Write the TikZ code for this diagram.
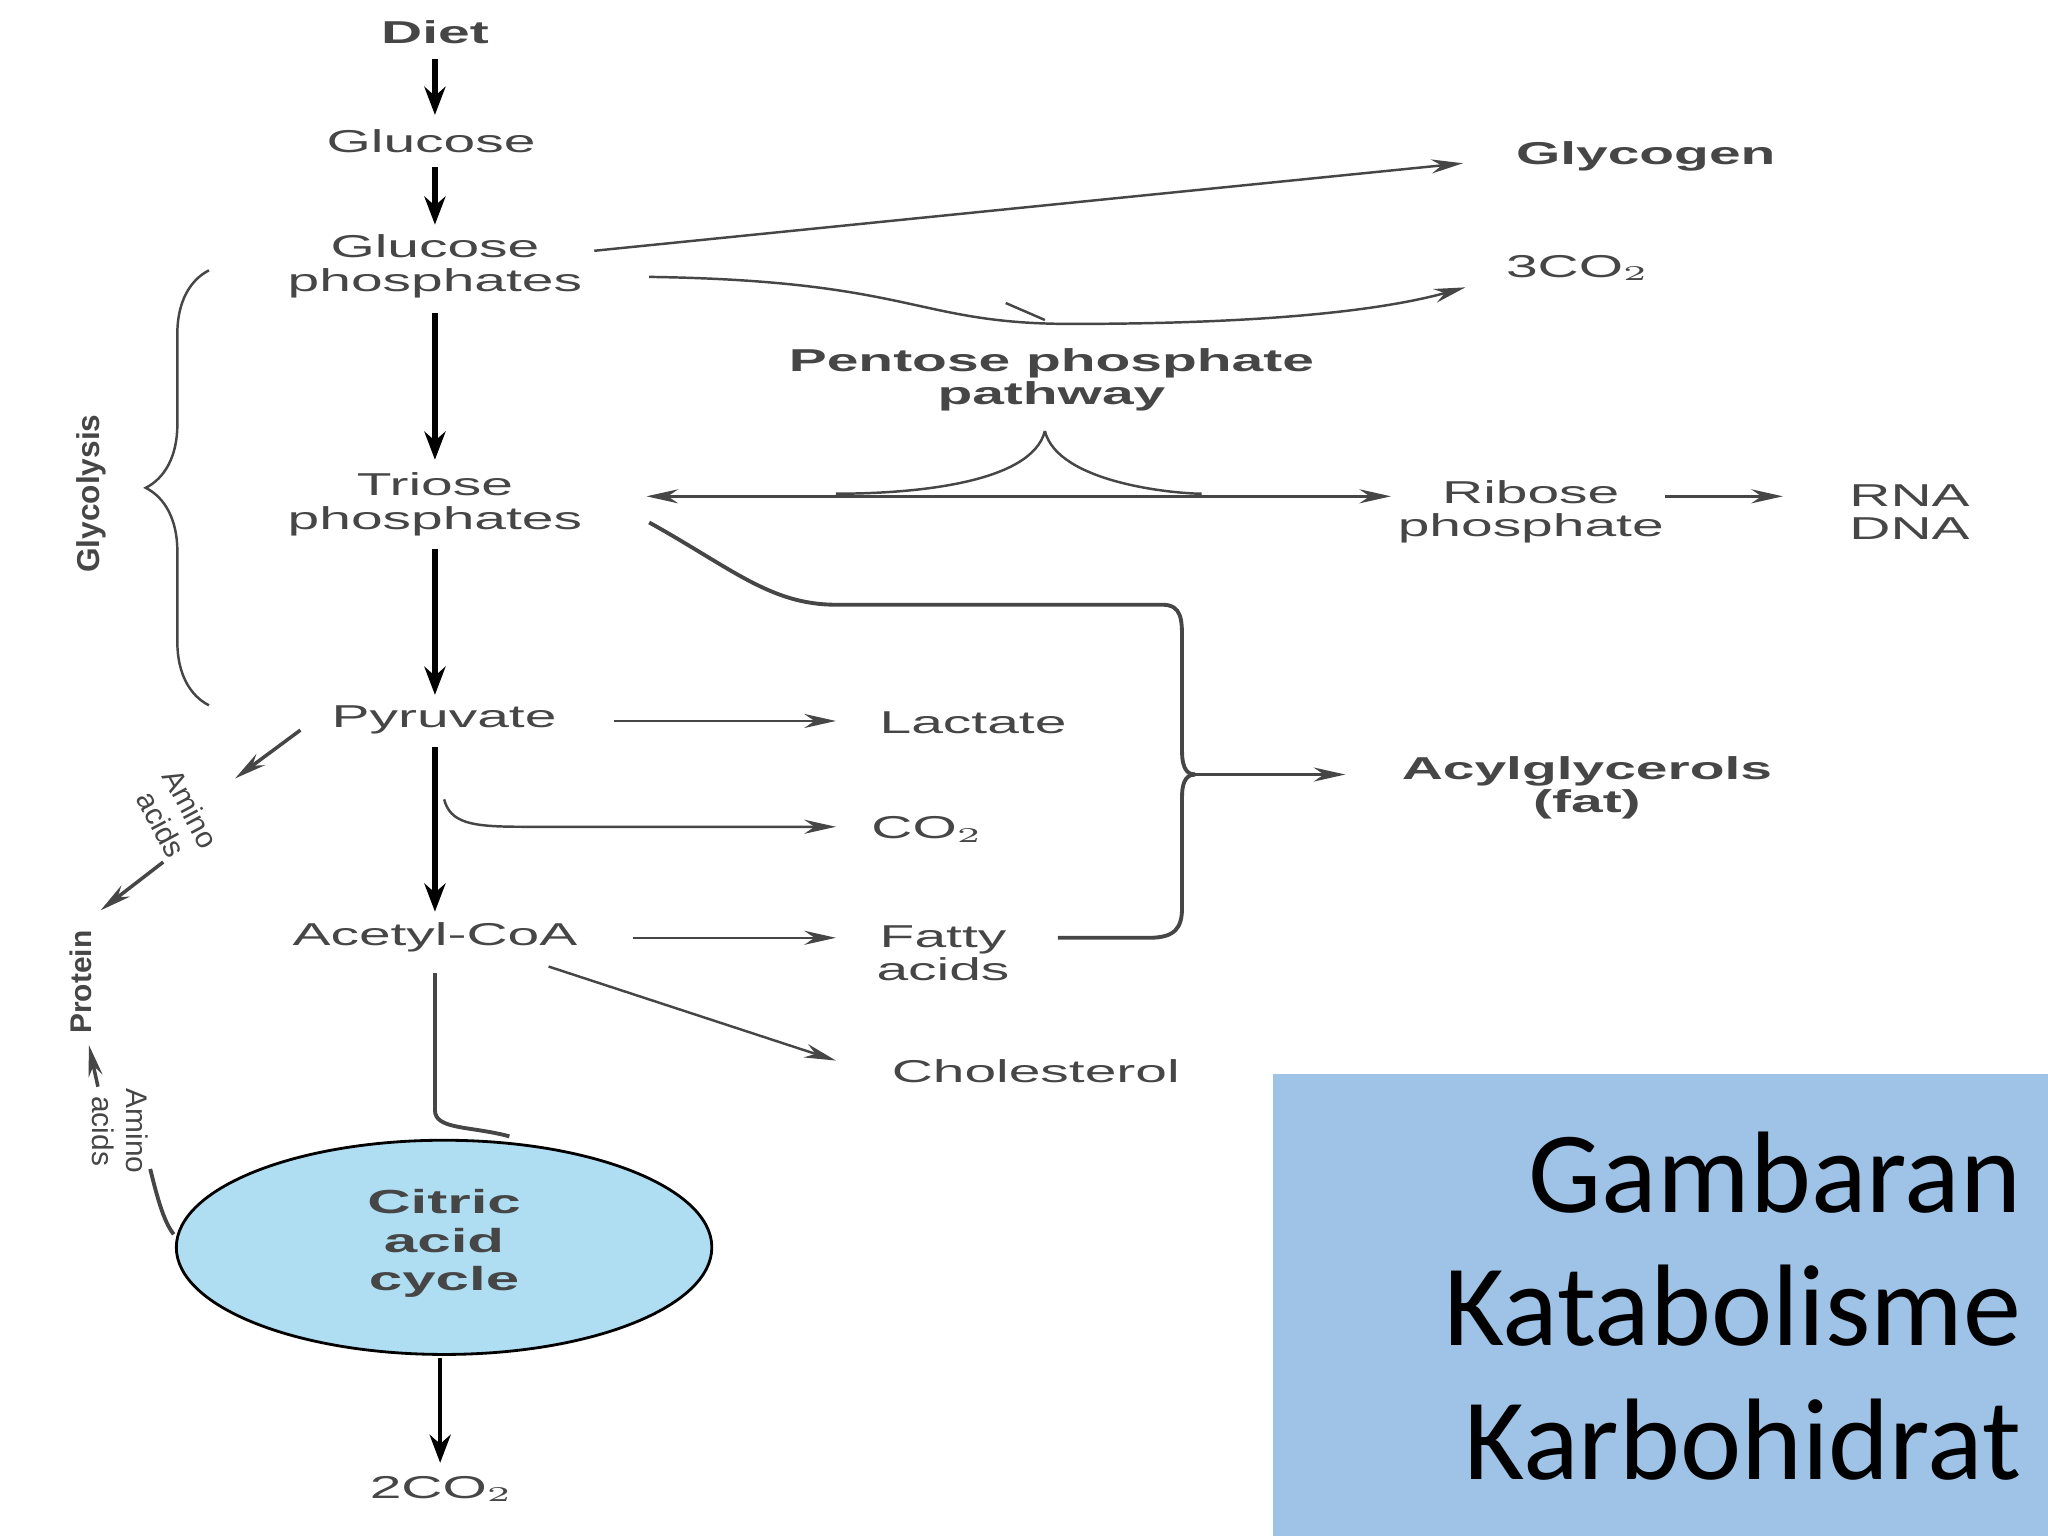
\documentclass[tikz,border=0pt]{standalone}
\usepackage{fontspec}
\setmainfont{Liberation Sans}
\newfontfamily\boxfont{Carlito}
\usetikzlibrary{arrows.meta,decorations.pathreplacing}
\definecolor{cyc}{RGB}{175,222,242}
\definecolor{boxc}{RGB}{158,195,230}
\definecolor{ink}{RGB}{70,70,70}
\newcommand{\W}[1]{\scalebox{1.8}[1]{#1}}
\begin{document}
\begin{tikzpicture}[x=0.013061cm,y=-0.013061cm,
  lab/.style={font=\fontsize{9}{9.5}\selectfont,text=ink,align=center,inner sep=1pt},
  blab/.style={lab,font=\fontsize{9}{9.5}\selectfont\bfseries},
  rlab/.style={font=\fontsize{8.5}{9.5}\selectfont,text=ink,align=center,inner sep=0pt},
  ar/.style={draw=ink,line width=0.7pt,-{Stealth[length=9pt,width=4pt]}},
  thick ar/.style={draw=black,line width=1.7pt,-{Stealth[length=8pt,width=6pt]}},
  ln/.style={draw=ink,line width=0.7pt}]
\useasboundingbox (0,0) rectangle (1568,1176);
\fill[white] (0,0) rectangle (1568,1176);
% nodes
\node[blab] (diet) at (333,25) {\W{Diet}};
\node[lab] (glc) at (330,108) {\W{Glucose}};
\node[lab] (gp) at (333,204) {\W{Glucose}\\\W{phosphates}};
\node[lab] (tp) at (333,386) {\W{Triose}\\\W{phosphates}};
\node[lab] (pyr) at (340,551) {\W{Pyruvate}};
\node[lab] (acoa) at (333,718) {\W{Acetyl-CoA}};
\node[lab] (lac) at (745,553) {\W{Lactate}};
\node[lab] (co2) at (710,635) {\W{CO$_2$}};
\node[lab] (fa) at (722,730) {\W{Fatty}\\\W{acids}};
\node[lab] (chol) at (793,820) {\W{Cholesterol}};
\node[blab] (glyc) at (1260,120) {\W{Glycogen}};
\node[lab] (tco) at (1208,205) {\W{3CO$_2$}};
\node[blab] (ppp) at (805,291) {\W{Pentose phosphate}\\\W{pathway}};
\node[lab] (rib) at (1172,392) {\W{Ribose}\\\W{phosphate}};
\node[lab] (rna) at (1462,392) {\W{RNA}\\\W{DNA}};
\node[blab] (fat) at (1215,603) {\W{Acylglycerols}\\\W{(fat)}};
\node[lab] (tco2) at (338,1140) {\W{2CO$_2$}};
\node[blab,rotate=90] (glys) at (70,378) {Glycolysis};
\node[rlab,rotate=-62] (aa1) at (135,625) {Amino\\acids};
\node[rlab,font=\fontsize{8.5}{8.5}\selectfont\bfseries,rotate=90] (prot) at (62,752) {Protein};
\node[rlab,rotate=-90] (aa2) at (92,866) {Amino\\acids};
% main chain
\coordinate (d1) at (333,45); \coordinate (d2) at (333,88);
\draw[thick ar] (d1) -- (d2);
\coordinate (d3) at (333,128); \coordinate (d4) at (333,172);
\draw[thick ar] (d3) -- (d4);
\coordinate (d5) at (333,240); \coordinate (d6) at (333,352);
\draw[thick ar] (d5) -- (d6);
\coordinate (d7) at (333,420); \coordinate (d8) at (333,532);
\draw[thick ar] (d7) -- (d8);
\coordinate (d9) at (333,572); \coordinate (d10) at (333,698);
\draw[thick ar] (d9) -- (d10);
\coordinate (l1) at (470,552); \coordinate (l2) at (640,552);
\draw[ar] (l1) -- (l2);
\coordinate (a2) at (485,718); \coordinate (a3) at (640,718);
\draw[ar] (a2) -- (a3);
\coordinate (ce) at (420,740); \coordinate (ce2) at (640,812);
\draw[ar] (ce) -- (ce2);
\coordinate (cb) at (340,612); \coordinate (cb2) at (640,633);
\draw[ar] (cb) .. controls (345,630) and (360,633) .. (400,633) -- (cb2);
% glycogen and 3CO2
\coordinate (g1) at (455,192); \coordinate (g3) at (1120,125);
\draw[ar] (g1) -- (g3);
\coordinate (g2) at (497,212); \coordinate (g4) at (1122,220);
\draw[ar] (g2) .. controls (700,215) and (700,248) .. (820,248) .. controls (950,248) and (1050,240) .. (g4);
\coordinate (p0) at (770,232);
\draw[ln] (p0) .. controls (785,238) .. (800,245);
% pentose split
\coordinate (pt) at (800,330);
\coordinate (pl) at (640,378);
\coordinate (pr) at (920,378);
\draw[ln] (pt) .. controls (790,370) and (700,378) .. (pl);
\draw[ln] (pt) .. controls (810,370) and (900,378) .. (pr);
\coordinate (tl) at (495,380);
\coordinate (rl) at (1065,380);
\draw[ar,{Stealth[length=9pt,width=4pt]}-{Stealth[length=9pt,width=4pt]}] (tl) -- (rl);
\coordinate (r1) at (1275,380);
\coordinate (r2) at (1365,380);
\draw[ar] (r1) -- (r2);
% fat bracket
\coordinate (f1) at (497,400);
\coordinate (f2) at (810,718);
\coordinate (ft) at (915,593);
\coordinate (fe) at (1030,593);
\draw[ln,line width=1.1pt] (f1) .. controls (560,435) and (590,463) .. (640,463) -- (890,463) .. controls (905,463) and (905,475) .. (905,490) -- (905,575) .. controls (905,590) and (910,593) .. (ft);
\draw[ln,line width=1.1pt] (f2) -- (880,718) .. controls (900,718) and (905,710) .. (905,695) -- (905,610) .. controls (905,596) and (910,593) .. (ft);
\draw[ar] (ft) -- (fe);
% glycolysis brace
\draw[ln,decorate,decoration={brace,amplitude=18pt,aspect=0.5}] (160,540) -- (160,207);
% citric acid cycle
\draw[draw=black,line width=0.8pt,fill=cyc] (340,955) ellipse [x radius=205,y radius=82];
\node[blab,font=\fontsize{9.5}{11}\selectfont\bfseries] (cac) at (340,952) {\W{Citric}\\\W{acid}\\\W{cycle}};
\coordinate (a1) at (333,745);
\draw[ln,line width=1.1pt] (a1) -- (333,850) .. controls (333,865) and (360,862) .. (390,870);
\coordinate (c1) at (337,1040); \coordinate (c2) at (337,1120);
\draw[thick ar,line width=1.3pt] (c1) -- (c2);
% amino acids / protein
\coordinate (m1) at (230,559); \coordinate (m2) at (180,596);
\draw[ar,line width=1pt] (m1) -- (m2);
\coordinate (m3) at (125,660); \coordinate (m4) at (77,697);
\draw[ar,line width=1pt] (m3) -- (m4);
\coordinate (m5) at (75,832); \coordinate (m6) at (68,800);
\draw[ar,line width=1pt] (m5) -- (m6);
\coordinate (m7) at (115,895); \coordinate (m8) at (133,945);
\draw[ln,line width=1.1pt] (m7) .. controls (120,915) and (125,935) .. (m8);
% title box
\fill[boxc] (975,822) rectangle (1568,1176);
\node[font=\boxfont\fontsize{33}{38}\selectfont,align=right,anchor=east,inner sep=0pt] (title) at (1548,1000) {Gambaran\\Katabolisme\\Karbohidrat};
\end{tikzpicture}
\end{document}
